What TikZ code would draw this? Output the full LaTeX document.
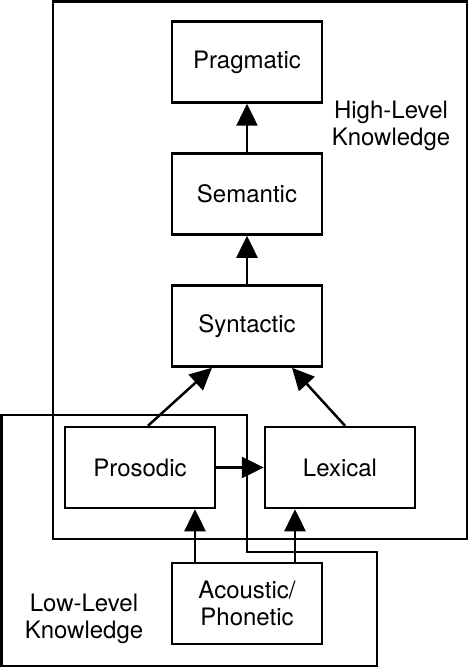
\documentclass[tikz,border=0pt]{standalone}
\usepackage{fontspec}
\setmainfont{TeX Gyre Heros}
\usetikzlibrary{arrows.meta}

\begin{document}
\begin{tikzpicture}[x=0.5pt,y=-0.5pt,node distance=66pt,line width=1.25pt,
  font=\fontsize{12}{13.5}\selectfont,
  level/.style={rectangle,draw,minimum width=75pt,minimum height=40.5pt,inner sep=0pt},
  tip/.style={-{Triangle[length=11pt,width=10.5pt]}}]
\useasboundingbox (0,0) rectangle (474,668);

% Knowledge regions
\draw (53,1.5) rectangle (467,539);
\draw (1.5,415) -- (247,415) -- (247,552) -- (377,552) -- (377,666) -- (1.5,666) -- cycle;
\node[align=center] (high) at (391,126) {High-Level\\Knowledge};
\node[align=center] (low) at (84,619) {Low-Level\\Knowledge};

% High-Level Layer
\node[level] at (247,62) (pragmatic) {Pragmatic};
\node[level,below of=pragmatic] (semantic) {Semantic};
\node[level,below of=semantic] (syntactic) {Syntactic};

% Low-Level Layer
\node[level] at (140,467.5) (prosodic) {Prosodic};
\node[level] at (340,467.5) (lexical) {Lexical};
\node[level,align=center] at (247,603.5) (acoustic) {Acoustic/\\Phonetic};

% Arrows
\draw[tip] (semantic) -- (pragmatic);
\draw[tip] (syntactic) -- (semantic);
\draw[tip] ([xshift=4pt]prosodic.north) -- ([xshift=-17.5pt]syntactic.south);
\draw[tip] ([xshift=2.5pt]lexical.north) -- ([xshift=22.5pt]syntactic.south);
\draw[tip] (prosodic) -- (lexical);
\draw[tip] ([xshift=-26pt]acoustic.north) -- ([xshift=-26pt]acoustic.north |- prosodic.south);
\draw[tip] ([xshift=24pt]acoustic.north) -- ([xshift=24pt]acoustic.north |- lexical.south);
\end{tikzpicture}
\end{document}
